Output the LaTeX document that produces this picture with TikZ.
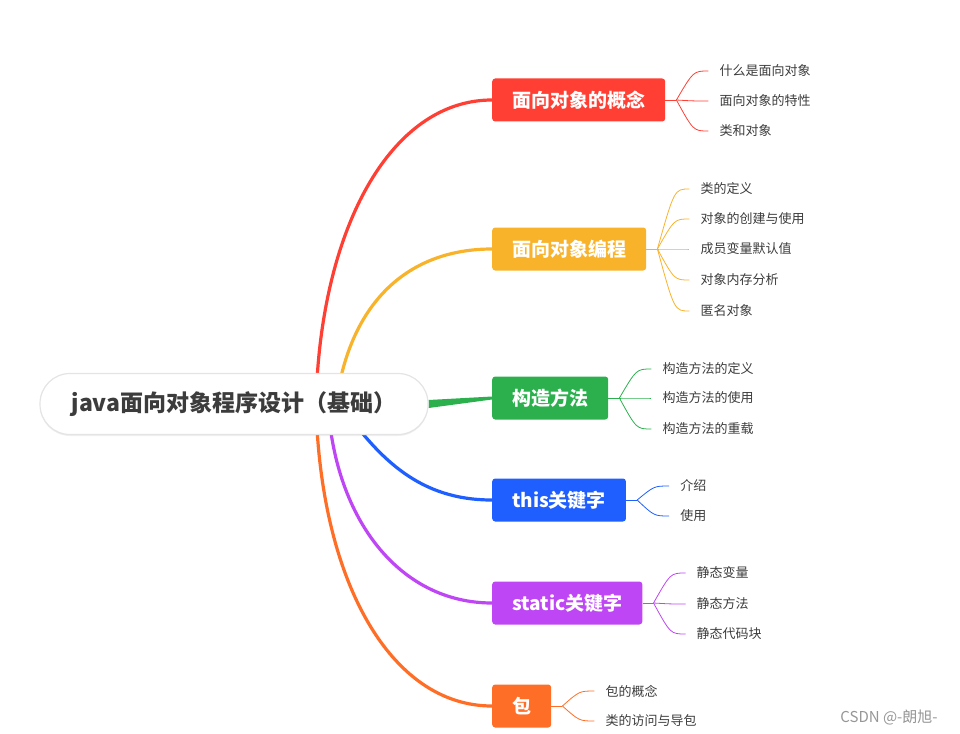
\documentclass[tikz,border=0pt]{standalone}
\usepackage{fontspec}
\setmainfont{Noto Sans CJK SC}
\usetikzlibrary{backgrounds,shadows}
\definecolor{cred}{HTML}{FF3F33}
\definecolor{cyel}{HTML}{F8B32B}
\definecolor{cgrn}{HTML}{2BB04D}
\definecolor{cblu}{HTML}{1F5FFF}
\definecolor{cpur}{HTML}{BE46F5}
\definecolor{corg}{HTML}{FF6E26}
\definecolor{ctxt}{HTML}{3C3C3C}
\tikzset{
  rootnode/.style={fill=white,draw={rgb,255:red,228;green,228;blue,228},line width=1.2,
    rounded corners=30,minimum width=388,minimum height=61,text=ctxt,
    font=\fontsize{23}{23}\selectfont\bfseries,
    drop shadow={opacity=0.12,shadow xshift=0pt,shadow yshift=-1.5pt}},
  branch/.style={rounded corners=3,minimum height=43,inner xsep=20,text=white,
    font=\fontsize{19}{19}\selectfont\bfseries,anchor=west},
  leaf/.style={inner xsep=0,inner ysep=1,anchor=west,text=ctxt,font=\fontsize{13}{13}\selectfont},
  mainline/.style={line width=3.2,line cap=round},
  subline/.style={line width=0.8}
}

\begin{document}
\begin{tikzpicture}[x=1pt,y=-1pt]
  \useasboundingbox (0,0) rectangle (960,733);

  \node[rootnode] (root) at (234,404) {java面向对象程序设计（基础）};

  % branches
  \node[branch,fill=cred] (gn) at (492,100) {面向对象的概念};
  \node[branch,fill=cyel] (bc) at (492,249) {面向对象编程};
  \node[branch,fill=cgrn] (gz) at (492,398) {构造方法};
  \node[branch,fill=cblu] (th) at (492,500) {this关键字};
  \node[branch,fill=cpur] (st) at (492,603) {static关键字};
  \node[branch,fill=corg] (bao) at (492,706) {包};

  \coordinate (sred) at (316,404);
  \coordinate (syel) at (336,404);
  \coordinate (sblu) at (340,404);
  \coordinate (spur) at (328,404);
  \coordinate (sorg) at (316,404);

  \begin{scope}[on background layer]
    \draw[mainline,cred] (sred) .. controls (320,230) and (390,100) .. (gn.west);
    \draw[mainline,cyel] (syel) .. controls (350,300) and (410,249) .. (bc.west);
    \fill[cgrn] ([yshift=4]root.east) -- ([yshift=1.5]gz.west) -- ([yshift=-1.5]gz.west) -- ([yshift=-4]root.east) -- cycle;
    \draw[mainline,cblu] (sblu) .. controls (380,460) and (420,500) .. (th.west);
    \draw[mainline,cpur] (spur) .. controls (335,520) and (400,603) .. (st.west);
    \draw[mainline,corg] (sorg) .. controls (320,580) and (390,706) .. (bao.west);
  \end{scope}

  % leaves
  \foreach \b/\col/\list in {
      gn/cred/{什么是面向对象/71,面向对象的特性/101,类和对象/131},
      bc/cyel/{类的定义/189,对象的创建与使用/219,成员变量默认值/249,对象内存分析/280,匿名对象/311},
      gz/cgrn/{构造方法的定义/369,构造方法的使用/398,构造方法的重载/429},
      th/cblu/{介绍/486,使用/516},
      st/cpur/{静态变量/573,静态方法/604,静态代码块/634},
      bao/corg/{包的概念/691,类的访问与导包/721}} {
    \coordinate (\b fork) at ([xshift=11]\b.east);
    \coordinate (\b c) at ([xshift=17]\b fork);
    \coordinate (\b x) at ([xshift=43]\b fork);
    \draw[subline,\col] (\b.east) -- (\b fork);
    \foreach \txt/\y [count=\i] in \list {
      \node[leaf] (\b\i) at (\b x |- 0,\y) {\txt};
      \draw[subline,\col] (\b fork) .. controls (\b c |- \b\i.west) .. ([xshift=-11]\b\i.west);
    }
  }

  \node[text={rgb,255:red,150;green,150;blue,150},font=\fontsize{15}{15}\selectfont] (mark) at (889,717) {CSDN @-朗旭-};
\end{tikzpicture}
\end{document}
